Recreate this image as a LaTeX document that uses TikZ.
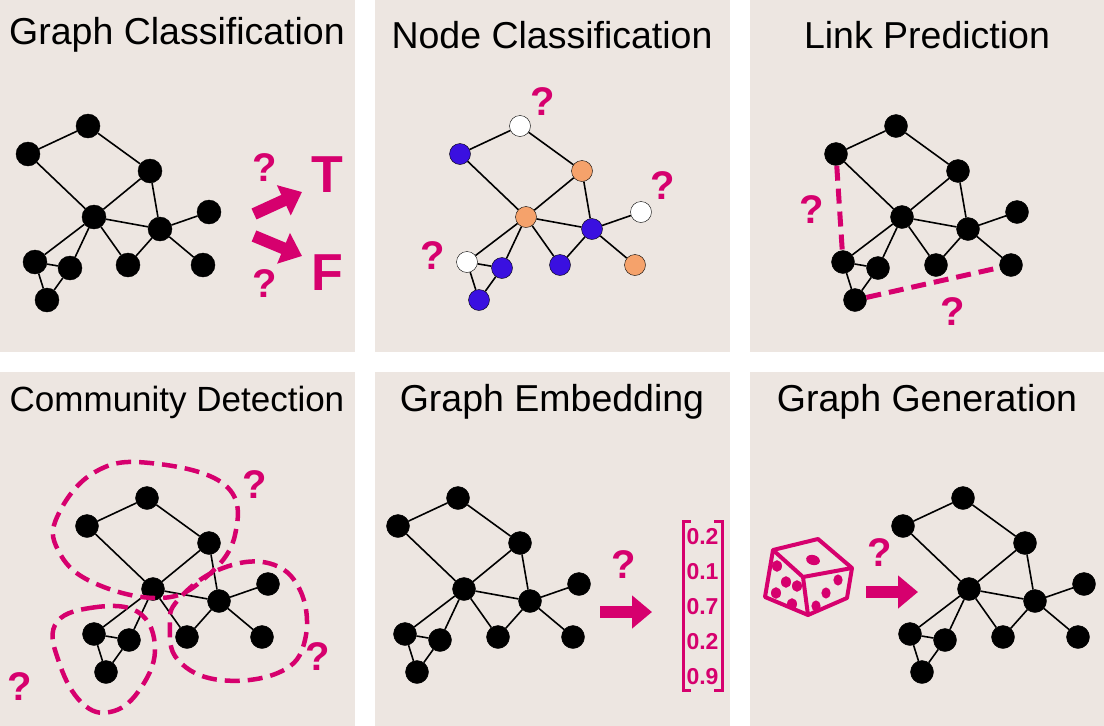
\documentclass[tikz,border=0pt]{standalone}
\usepackage{fontspec}
\setmainfont{Liberation Sans}
\usetikzlibrary{arrows.meta}
\definecolor{bg}{HTML}{EDE6E1}
\definecolor{mag}{HTML}{D6006E}
\definecolor{nblue}{HTML}{3A10E0}
\definecolor{norange}{HTML}{F5A26B}
\tikzset{
  panel/.style={fill=bg,draw=none},
  ttl/.style={font=\fontsize{37.5}{40}\selectfont,text=black},
  gn/.style={circle,fill=black,draw=black,inner sep=0pt,minimum size=#1},
  gn/.default=24pt,
  ge/.style={line width=1.6pt},
  qm/.style={font=\bfseries\fontsize{40}{42}\selectfont,text=mag},
  bigl/.style={font=\bfseries\fontsize{52}{54}\selectfont,text=mag},
  nA/.style={},nB/.style={},nC/.style={},nD/.style={},nE/.style={},nF/.style={},
  nG/.style={},nH/.style={},nI/.style={},nJ/.style={},nK/.style={},
  bigarr/.style={draw=mag,line width=12pt,-{Triangle[length=20pt,width=32pt]}},
  blob/.style={draw=mag,line width=4.5pt,dash pattern=on 15pt off 8pt},
}
\newcommand\mygraph[4]{%
\begin{scope}[shift={(#2,#3)}]
\node[gn=#4,nA] (#1A) at (88,126) {};
\node[gn=#4,nB] (#1B) at (28,154) {};
\node[gn=#4,nC] (#1C) at (150,171) {};
\node[gn=#4,nD] (#1D) at (94,217) {};
\node[gn=#4,nE] (#1E) at (160,229) {};
\node[gn=#4,nF] (#1F) at (209,212) {};
\node[gn=#4,nG] (#1G) at (203,265) {};
\node[gn=#4,nH] (#1H) at (128,265) {};
\node[gn=#4,nI] (#1I) at (35,262) {};
\node[gn=#4,nJ] (#1J) at (70,268) {};
\node[gn=#4,nK] (#1K) at (47,300) {};
\foreach \a/\b in {A/B,A/C,B/D,C/D,C/E,D/E,E/F,E/G,E/H,D/H,D/I,D/J,I/J,I/K,J/K}
  \draw[ge] (#1\a) -- (#1\b);
\end{scope}}
\begin{document}
\begin{tikzpicture}[x=1pt,y=-1pt]
\useasboundingbox (0,0) rectangle (1104,726);
\fill[white] (0,0) rectangle (1104,726);
\foreach \x/\X in {0/355,375/730,750/1104}{
  \fill[bg] (\x,0) rectangle (\X,352);
  \fill[bg] (\x,372) rectangle (\X,726);}
\node[ttl] (t1) at (177,35) {Graph Classification};
\node[ttl] (t2) at (552,35) {Node Classification};
\node[ttl] (t3) at (927,35) {Link Prediction};
\node[ttl,font=\fontsize{35}{40}\selectfont] (t4) at (177,402) {Community Detection};
\node[ttl] (t5) at (552,402) {Graph Embedding};
\node[ttl] (t6) at (927,402) {Graph Generation};
% panel 1
\mygraph{a}{0}{0}{24pt}
\coordinate (a1s) at (254,214); \coordinate (a1e) at (302,192);
\coordinate (a2s) at (254,236); \coordinate (a2e) at (302,256);
\draw[bigarr] (a1s) -- (a1e);
\draw[bigarr] (a2s) -- (a2e);
\node[qm] (q1) at (265,168) {?};
\node[qm] (q2) at (265,284) {?};
\node[bigl] (T) at (327,175) {T};
\node[bigl] (F) at (327,273) {F};
% panel 2
\begin{scope}[nA/.style={fill=white},nB/.style={fill=nblue},nC/.style={fill=norange},
 nD/.style={fill=norange},nE/.style={fill=nblue},nF/.style={fill=white},nG/.style={fill=norange},
 nH/.style={fill=nblue},nI/.style={fill=white},nJ/.style={fill=nblue},nK/.style={fill=nblue}]
\mygraph{b}{432}{0}{21pt}
\end{scope}
\node[qm] (q3) at (543,102) {?};
\node[qm] (q4) at (663,186) {?};
\node[qm] (q5) at (433,256) {?};
% panel 3
\mygraph{c}{808}{0}{23pt}
\draw[blob,line width=5pt] (cB) -- (cI);
\draw[blob,line width=5pt] (cK) -- (cG);
\node[qm] (q6) at (812,210) {?};
\node[qm] (q7) at (953,312) {?};
% panel 4
\mygraph{d}{59}{372}{23pt}
\draw[blob] plot[smooth cycle,tension=0.7] coordinates {(58,515) (95,472) (150,463) (225,485) (235,535) (205,578) (160,598) (92,582) (58,550)};
\draw[blob] plot[smooth cycle,tension=0.7] coordinates {(178,600) (218,570) (268,563) (300,590) (305,640) (280,672) (220,680) (178,660) (170,625)};
\draw[blob] plot[smooth cycle,tension=0.7] coordinates {(55,625) (90,608) (138,612) (155,650) (138,692) (110,712) (82,703) (60,665)};
\node[qm] (q8) at (255,485) {?};
\node[qm] (q9) at (318,657) {?};
\node[qm] (q10) at (20,687) {?};
% panel 5
\mygraph{e}{370}{372}{23pt}
\coordinate (e1s) at (600,612); \coordinate (e1e) at (652,612);
\draw[bigarr] (e1s) -- (e1e);
\node[qm] (q11) at (624,565) {?};
\draw[mag,line width=3pt] (691,521) -- (683,521) -- (683,690) -- (691,690);
\draw[mag,line width=3pt] (714,521) -- (722,521) -- (722,690) -- (714,690);
\foreach \v [count=\i] in {0.2,0.1,0.7,0.2,0.9}
  \node[font=\bfseries\fontsize{23}{24}\selectfont,text=mag] (m\i) at (702.5,502+35*\i) {\v};
% panel 6
\mygraph{f}{875}{372}{23pt}
\coordinate (f1s) at (866,592); \coordinate (f1e) at (918,592);
\draw[bigarr] (f1s) -- (f1e);
\node[qm] (q12) at (880,553) {?};
\begin{scope}[mag,line width=4pt,line join=round]
\draw (773,550) -- (818,539) -- (852,568) -- (847,598) -- (808,615) -- (765,597) -- cycle;
\draw (773,550) -- (803,577) -- (852,568);
\draw (803,577) -- (808,615);
\end{scope}
\begin{scope}[fill=mag]
\fill[rotate around={-15:(813,560)}] (813,560) ellipse (7pt and 5pt);
\foreach \p in {(777,566),(786,582),(776,593),(797,586),(792,604)} \fill \p ellipse (5pt and 5.8pt);
\foreach \p in {(838,580),(826,593),(816,606)} \fill \p ellipse (4.6pt and 5.6pt);
\end{scope}
\end{tikzpicture}
\end{document}
